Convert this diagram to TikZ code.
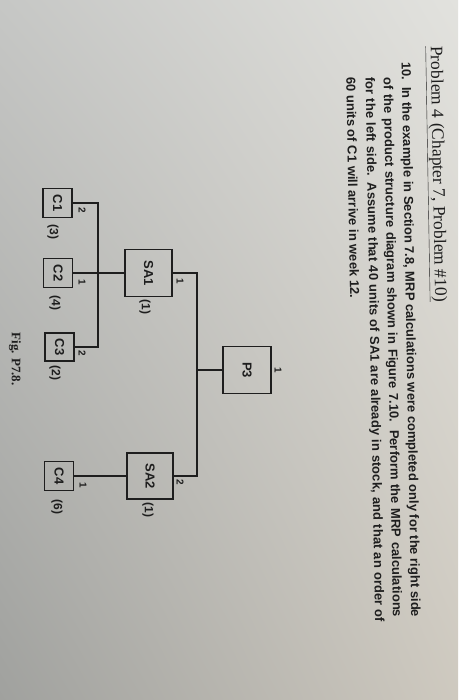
\documentclass[tikz,border=0pt]{standalone}
\usepackage{fontspec}
\setmainfont{Liberation Sans}
\newfontfamily\titlefont{Liberation Serif}
\usepackage{graphicx}
\usetikzlibrary{shadings}
\definecolor{inkc}{RGB}{30,30,30}
\definecolor{bgul}{RGB}{198,199,197}
\definecolor{bgur}{RGB}{226,226,222}
\definecolor{bgll}{RGB}{160,161,158}
\definecolor{bglr}{RGB}{206,201,191}
\begin{document}
\begin{tikzpicture}[x=1pt,y=-1pt,
  wire/.style={draw=inkc, line width=1.5pt},
  partbox/.style={draw=inkc, line width=1.8pt, inner sep=0pt, text=inkc,
    font=\bfseries\fontsize{13}{13}\selectfont},
  qty/.style={font=\bfseries\fontsize{10}{10}\selectfont, text=inkc, inner sep=0pt},
  cnt/.style={font=\bfseries\fontsize{12}{12}\selectfont, text=inkc, inner sep=0pt},
  body/.style={rotate=-89, anchor=west, inner sep=0pt, text=inkc,
    font=\bfseries\fontsize{13}{15}\selectfont}]
\shade[upper left=bgul, upper right=bgur, lower left=bgll, lower right=bglr]
  (0,0) rectangle (458,700);
\useasboundingbox (0,0) rectangle (458,700);

% text
\node[body, font=\titlefont\fontsize{17.5}{17.5}\selectfont] (title) at (434,46)
  {\underline{Problem 4 (Chapter 7, Problem \#10)}};
\node[body] (l1) at (405,62)
  {\makebox[555pt][s]{10.\ \ In the example in Section 7.8, MRP calculations were completed only for the right side}};
\node[body] (l2) at (387,77)
  {\makebox[540pt][s]{of the product structure diagram shown in Figure 7.10. Perform the MRP calculations}};
\node[body] (l3) at (369,77)
  {\makebox[545pt][s]{for the left side. Assume that 40 units of SA1 are already in stock, and that an order of}};
\node[body] (l4) at (351,77)
  {60 units of C1 will arrive in week 12.};

% boxes
\node[partbox, minimum width=48pt, minimum height=47pt] (P3) at (247,370) {\rotatebox{-90}{P3}};
\node[partbox, minimum width=47pt, minimum height=47pt] (SA1) at (148.5,273) {\rotatebox{-90}{SA1}};
\node[partbox, minimum width=46pt, minimum height=46pt] (SA2) at (150,476) {\rotatebox{-90}{SA2}};
\node[partbox, minimum width=29pt, minimum height=29pt] (C1) at (57.5,203) {\rotatebox{-90}{C1}};
\node[partbox, minimum width=29pt, minimum height=29pt] (C2) at (58,273) {\rotatebox{-90}{C2}};
\node[partbox, minimum width=29pt, minimum height=28pt] (C3) at (59.5,347) {\rotatebox{-90}{C3}};
\node[partbox, minimum width=29pt, minimum height=29pt] (C4) at (59,476) {\rotatebox{-90}{C4}};

% connectors
\coordinate (rt) at (197,273);
\coordinate (rb) at (197,476);
\coordinate (lt) at (98,203);
\coordinate (lb) at (98,347);
\draw[wire] (SA1.east) -- (rt) -- (rb) -- (SA2.east);
\draw[wire] (P3.west) -- (P3.west -| rt);
\draw[wire] (C1.east) -- (lt) -- (lb) -- (C3.east);
\draw[wire] (C2.east) -- (SA1.west);
\draw[wire] (C4.east) -- (SA2.west);

% quantities
\node[qty] (qP3) at (278,370) {\rotatebox{-90}{1}};
\node[qty] (qSA1) at (180,281) {\rotatebox{-90}{1}};
\node[qty] (qSA2) at (180,482) {\rotatebox{-90}{2}};
\node[qty] (qC1) at (82,210) {\rotatebox{-90}{2}};
\node[qty] (qC2) at (82,282) {\rotatebox{-90}{1}};
\node[qty] (qC3) at (82,353) {\rotatebox{-90}{2}};
\node[qty] (qC4) at (83,485) {\rotatebox{-90}{1}};

\node[cnt] (nSA1) at (145,307) {\rotatebox{-90}{(1)}};
\node[cnt] (nSA2) at (148,510) {\rotatebox{-90}{(1)}};
\node[cnt] (nC1) at (53,232) {\rotatebox{-90}{(3)}};
\node[cnt] (nC2) at (55,303) {\rotatebox{-90}{(4)}};
\node[cnt] (nC3) at (55,373) {\rotatebox{-90}{(2)}};
\node[cnt] (nC4) at (57,507) {\rotatebox{-90}{(6)}};

% caption
\node[cnt, font=\titlefont\bfseries\fontsize{13}{13}\selectfont] (cap) at (15,359) {\rotatebox{-90}{Fig. P7.8.}};
\end{tikzpicture}
\end{document}
